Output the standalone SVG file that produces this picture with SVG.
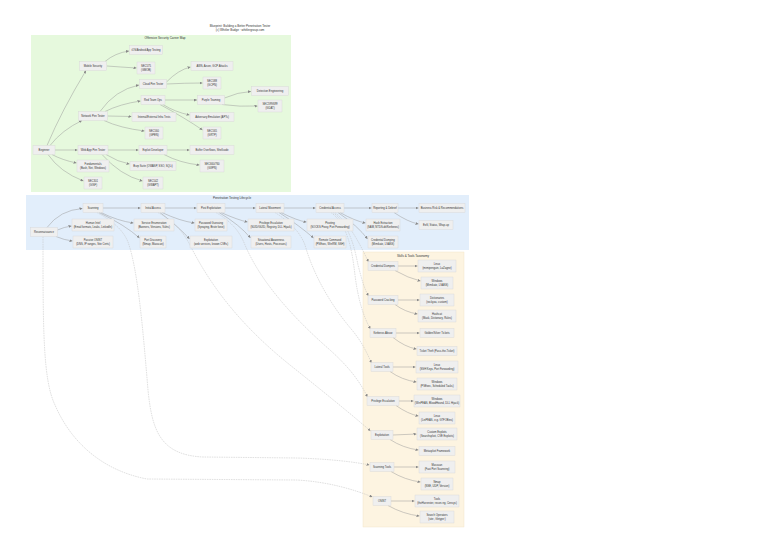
<svg xmlns="http://www.w3.org/2000/svg" width="768" height="543" viewBox="0 0 768 543">
<style>
text{font-family:"Liberation Sans",Arial,sans-serif;font-size:2.7px;fill:#333;text-anchor:middle}
.title{font-size:3px}
.cl{font-size:3px}
.n rect{fill:#efefef;stroke:#d6d6d6;stroke-width:0.4}
.e path{fill:none;stroke:#9a9a9a;stroke-width:0.5;marker-end:url(#ah)}
.x path{fill:none;stroke:#c0c0c0;stroke-width:0.5;stroke-dasharray:1.6 0.8;marker-end:url(#ah)}
</style>
<defs>
<marker id="ah" markerUnits="userSpaceOnUse" markerWidth="3" markerHeight="3" refX="3" refY="1.5" orient="auto">
<path d="M0,0 L3,1.5 L0,3 z" fill="#888"/>
</marker>
</defs>
<rect width="768" height="543" fill="#fff"/>
<g id="title">
<text class="title" x="240" y="27">Blueprint: Building a Better Penetration Tester</text>
<text class="title" x="240" y="31">(c) Whitler Budge · whitlergroup.com</text>
</g>
<g id="clusters">
<rect x="31" y="35" width="260" height="157" fill="#e6f9dd"/>
<text class="cl" x="165" y="39">Offensive Security Career Map</text>
<rect x="26" y="195" width="443" height="55" fill="#e2eefb"/>
<text class="cl" x="232" y="199">Penetration Testing Lifecycle</text>
<rect x="363" y="252" width="101" height="275" fill="#fdf4e1" stroke="#f0e2c0" stroke-width="0.4"/>
<text class="cl" x="413" y="257">Skills &amp; Tools Taxonomy</text>
</g>
<g id="connectors">
<g class="e">
<path d="M47,145.5 Q62,110 86,70.5"/>
<path d="M50,145.5 Q62,130 82,120.5"/>
<path d="M55,150 L77.5,150"/>
<path d="M52,154.5 Q62,160 76.5,163"/>
<path d="M48,154.5 Q60,172 83.5,181"/>
<path d="M105,61.5 Q115,53 129,51"/>
<path d="M107,66 Q120,67 136.5,68"/>
<path d="M100,111.5 Q115,90 139,85"/>
<path d="M105,111.5 Q120,104 140.5,101"/>
<path d="M107.5,116 L131.5,116.5"/>
<path d="M104,120.5 Q120,128 144.5,131"/>
<path d="M166.5,82 Q178,70 190.5,67"/>
<path d="M166.5,84 Q185,83 202.5,83"/>
<path d="M165,100 L197,100"/>
<path d="M163,104.5 Q175,112 189.5,115"/>
<path d="M160,104.5 Q185,118 202.5,130"/>
<path d="M224.5,98 Q238,92 251,91.5"/>
<path d="M222,104.5 Q240,107 257.5,106"/>
<path d="M108,150 L138.5,150"/>
<path d="M106,154.5 Q118,162 129.5,164"/>
<path d="M102,154.5 Q120,175 142.5,181"/>
<path d="M167,150 L189.5,150"/>
<path d="M164,154.5 Q180,163 199.5,165"/>
<path d="M47,227.5 Q60,210 82.5,208.5"/>
<path d="M57.5,230 Q64,227 71.5,226"/>
<path d="M56,236.5 Q64,240 72.5,241"/>
<path d="M103,208 L140.5,208"/>
<path d="M101,212.5 Q118,221 133.5,223"/>
<path d="M99,212.5 Q125,225 139.5,238"/>
<path d="M165,208 L196.5,208"/>
<path d="M162,212.5 Q180,221 194.5,223"/>
<path d="M160,212.5 Q180,228 189.5,239"/>
<path d="M225,208 L255.5,208"/>
<path d="M221,212.5 Q238,220 247.5,222"/>
<path d="M219,212.5 Q240,225 250.5,238"/>
<path d="M284,208 L315.5,208"/>
<path d="M281,212.5 Q298,221 306.5,222"/>
<path d="M279,212.5 Q300,226 313.5,238"/>
<path d="M344,208 L371.5,208"/>
<path d="M340,212.5 Q355,221 365.5,223"/>
<path d="M338,212.5 Q358,226 367.5,239"/>
<path d="M398,208 L418.5,208"/>
<path d="M394,212.5 Q408,222 418.5,224"/>
<path d="M398,266 L417.5,266"/>
<path d="M395,270.5 Q408,278 420.5,281"/>
<path d="M398,300 L419.5,300"/>
<path d="M395,304.5 Q405,312 417.5,314"/>
<path d="M396,333 L419.5,333"/>
<path d="M393,337.5 Q405,347 416.5,349"/>
<path d="M393,367 L415.5,367"/>
<path d="M390,371.5 Q402,380 416.5,382"/>
<path d="M399,401 L413.5,401"/>
<path d="M396,405.5 Q408,414 418.5,416"/>
<path d="M393,435 L416.5,434"/>
<path d="M390,439.5 Q403,448 418.5,450"/>
<path d="M394,467 L418.5,467"/>
<path d="M391,471.5 Q405,480 420.5,482"/>
<path d="M391,501 L414.5,501"/>
<path d="M388,505.5 Q403,514 419.5,516"/>
</g>
<g class="x">
<path d="M43,236.5 C43,330 43,380 55,405 C70,440 100,470 147,479 L297,480 C330,482 355,490 372.5,497"/>
<path d="M97,212.5 C115,222 124,232 128,242 C138,270 143,330 148,390 C152,430 160,455 203,457 L297,458 C330,459 355,462 369.5,465"/>
<path d="M158,212.5 C175,222 183,232 190,245 C210,285 240,325 290,365 C330,397 352,415 370.5,431"/>
<path d="M216,212.5 C232,222 240,232 245,245 C260,280 290,315 330,350 C350,368 360,382 367.5,397"/>
<path d="M275,212.5 C290,222 300,232 305,245 C315,280 335,310 352,330 C362,342 367,353 371.5,363"/>
<path d="M335,212.5 C350,225 358,240 368.5,262"/>
<path d="M333,212.5 C350,225 355,250 358,265 C362,280 364,288 368.5,296"/>
<path d="M331,212.5 C348,225 352,250 355,275 C358,300 364,318 370.5,329"/>
</g>
</g>
<g id="n-beginner" class="n"><rect x="33" y="145.5" width="22" height="9"/><text x="44" y="151">Beginner</text></g>
<g id="n-mobile" class="n"><rect x="79.5" y="61.5" width="27" height="9"/><text x="93" y="67">Mobile Security</text></g>
<g id="n-iosapp" class="n"><rect x="129.5" y="45.5" width="33" height="9"/><text x="146" y="51">iOS/Android App Testing</text></g>
<g id="n-sec575" class="n"><rect x="137" y="62" width="18" height="12"/><text x="146" y="67.4">SEC575</text><text x="146" y="70.8">(GMOB)</text></g>
<g id="n-netpen" class="n"><rect x="78.5" y="111.5" width="29" height="9"/><text x="93" y="117">Network Pen Tester</text></g>
<g id="n-cloudpen" class="n"><rect x="139.5" y="79.5" width="27" height="9"/><text x="153" y="85">Cloud Pen Tester</text></g>
<g id="n-aws" class="n"><rect x="191" y="61.5" width="42" height="9"/><text x="212" y="67">AWS, Azure, GCP Attacks</text></g>
<g id="n-sec588" class="n"><rect x="203" y="77" width="18" height="12"/><text x="212" y="82.4">SEC588</text><text x="212" y="85.8">(GCPN)</text></g>
<g id="n-redteam" class="n"><rect x="141" y="95.5" width="24" height="9"/><text x="153" y="101">Red Team Ops</text></g>
<g id="n-purple" class="n"><rect x="197.5" y="95.5" width="27" height="9"/><text x="211" y="101">Purple Teaming</text></g>
<g id="n-detect" class="n"><rect x="251.5" y="86.5" width="37" height="9"/><text x="270" y="92">Detection Engineering</text></g>
<g id="n-sec599" class="n"><rect x="258" y="100" width="24" height="12"/><text x="270" y="105.4">SEC599/699</text><text x="270" y="108.8">(GDAT)</text></g>
<g id="n-infra" class="n"><rect x="132" y="112.5" width="44" height="9"/><text x="154" y="118">Internal/External Infra Tests</text></g>
<g id="n-adv" class="n"><rect x="190" y="112.5" width="44" height="9"/><text x="212" y="118">Adversary Emulation (APTs)</text></g>
<g id="n-sec560" class="n"><rect x="145" y="127" width="18" height="12"/><text x="154" y="132.4">SEC560</text><text x="154" y="135.8">(GPEN)</text></g>
<g id="n-sec565" class="n"><rect x="203" y="127" width="18" height="12"/><text x="212" y="132.4">SEC565</text><text x="212" y="135.8">(GRTP)</text></g>
<g id="n-webapp" class="n"><rect x="78" y="145.5" width="30" height="9"/><text x="93" y="151">Web App Pen Tester</text></g>
<g id="n-exploitdev" class="n"><rect x="139" y="145.5" width="28" height="9"/><text x="153" y="151">Exploit Developer</text></g>
<g id="n-buffer" class="n"><rect x="190" y="145.5" width="44" height="9"/><text x="212" y="151">Buffer Overflows, Shellcode</text></g>
<g id="n-fund" class="n"><rect x="77" y="160" width="32" height="12"/><text x="93" y="165.4">Fundamentals</text><text x="93" y="168.8">(Bash, Net, Windows)</text></g>
<g id="n-burp" class="n"><rect x="130" y="161.5" width="46" height="9"/><text x="153" y="167">Burp Suite (OWASP, SSO, SQLi)</text></g>
<g id="n-sec660" class="n"><rect x="200" y="160" width="24" height="12"/><text x="212" y="165.4">SEC660/760</text><text x="212" y="168.8">(GXPN)</text></g>
<g id="n-sec301" class="n"><rect x="84" y="177" width="18" height="12"/><text x="93" y="182.4">SEC301</text><text x="93" y="185.8">(GISF)</text></g>
<g id="n-sec542" class="n"><rect x="143" y="177" width="20" height="12"/><text x="153" y="182.4">SEC542</text><text x="153" y="185.8">(GWAPT)</text></g>
<g id="n-recon" class="n"><rect x="30.5" y="227.5" width="27" height="9"/><text x="44" y="233">Reconnaissance</text></g>
<g id="n-scanning" class="n"><rect x="83" y="203.5" width="20" height="9"/><text x="93" y="209">Scanning</text></g>
<g id="n-humint" class="n"><rect x="72" y="219" width="42" height="12"/><text x="93" y="224.4">Human Intel</text><text x="93" y="227.8">(Email formats, Leaks, LinkedIn)</text></g>
<g id="n-posint" class="n"><rect x="73" y="236" width="40" height="12"/><text x="93" y="241.4">Passive OSINT</text><text x="93" y="244.8">(DNS, IP ranges, Site Certs)</text></g>
<g id="n-initial" class="n"><rect x="141" y="203.5" width="24" height="9"/><text x="153" y="209">Initial Access</text></g>
<g id="n-svcenum" class="n"><rect x="134" y="219" width="40" height="12"/><text x="154" y="224.4">Service Enumeration</text><text x="154" y="227.8">(Banners, Versions, Vulns)</text></g>
<g id="n-portdisc" class="n"><rect x="140" y="236" width="26" height="12"/><text x="153" y="241.4">Port Discovery</text><text x="153" y="244.8">(Nmap, Masscan)</text></g>
<g id="n-postex" class="n"><rect x="197" y="203.5" width="28" height="9"/><text x="211" y="209">Post Exploitation</text></g>
<g id="n-pwguess" class="n"><rect x="195" y="219" width="32" height="12"/><text x="211" y="224.4">Password Guessing</text><text x="211" y="227.8">(Spraying, Brute force)</text></g>
<g id="n-exploitation" class="n"><rect x="190" y="236" width="42" height="12"/><text x="211" y="241.4">Exploitation</text><text x="211" y="244.8">(web services, known CVEs)</text></g>
<g id="n-lateral" class="n"><rect x="256" y="203.5" width="28" height="9"/><text x="270" y="209">Lateral Movement</text></g>
<g id="n-privesc" class="n"><rect x="248" y="219" width="46" height="12"/><text x="271" y="224.4">Privilege Escalation</text><text x="271" y="227.8">(SUID/GUID, Registry, DLL Hijack)</text></g>
<g id="n-situational" class="n"><rect x="251" y="236" width="40" height="12"/><text x="271" y="241.4">Situational Awareness</text><text x="271" y="244.8">(Users, Hosts, Processes)</text></g>
<g id="n-credaccess" class="n"><rect x="316" y="203.5" width="28" height="9"/><text x="330" y="209">Credential Access</text></g>
<g id="n-pivoting" class="n"><rect x="307" y="219" width="46" height="12"/><text x="330" y="224.4">Pivoting</text><text x="330" y="227.8">(SOCKS Proxy, Port Forwarding)</text></g>
<g id="n-remotecmd" class="n"><rect x="314" y="236" width="32" height="12"/><text x="330" y="241.4">Remote Command</text><text x="330" y="244.8">(PSExec, WinRM, SSH)</text></g>
<g id="n-reporting" class="n"><rect x="372" y="203.5" width="26" height="9"/><text x="385" y="209">Reporting &amp; Debrief</text></g>
<g id="n-business" class="n"><rect x="419" y="203.5" width="46" height="9"/><text x="442" y="209">Business Risk &amp; Recommendations</text></g>
<g id="n-hashext" class="n"><rect x="366" y="219" width="34" height="12"/><text x="383" y="224.4">Hash Extraction</text><text x="383" y="227.8">(SAM, NTDS.dit/Kerberos)</text></g>
<g id="n-exfil" class="n"><rect x="419" y="220.5" width="34" height="9"/><text x="436" y="226">Exfil, Status, Wrap-up</text></g>
<g id="n-creddump" class="n"><rect x="368" y="236" width="30" height="12"/><text x="383" y="241.4">Credential Dumping</text><text x="383" y="244.8">(Mimikatz, LSASS)</text></g>
<g id="n-credumpers" class="n"><rect x="368" y="261.5" width="30" height="9"/><text x="383" y="267">Credential Dumpers</text></g>
<g id="n-linux1" class="n"><rect x="418" y="260" width="38" height="12"/><text x="437" y="265.4">Linux</text><text x="437" y="268.8">(mimipenguin, LaZagne)</text></g>
<g id="n-win1" class="n"><rect x="421" y="277" width="32" height="12"/><text x="437" y="282.4">Windows</text><text x="437" y="285.8">(Mimikatz, LSASS)</text></g>
<g id="n-pwcrack" class="n"><rect x="368" y="295.5" width="30" height="9"/><text x="383" y="301">Password Cracking</text></g>
<g id="n-dict" class="n"><rect x="420" y="294" width="34" height="12"/><text x="437" y="299.4">Dictionaries</text><text x="437" y="302.8">(rockyou, custom)</text></g>
<g id="n-hashcat" class="n"><rect x="418" y="310" width="38" height="12"/><text x="437" y="315.4">Hashcat</text><text x="437" y="318.8">(Mask, Dictionary, Rules)</text></g>
<g id="n-kerb" class="n"><rect x="370" y="328.5" width="26" height="9"/><text x="383" y="334">Kerberos Abuse</text></g>
<g id="n-golden" class="n"><rect x="420" y="328.5" width="34" height="9"/><text x="437" y="334">Golden/Silver Tickets</text></g>
<g id="n-ticket" class="n"><rect x="417" y="346.5" width="40" height="9"/><text x="437" y="352">Ticket Theft (Pass-the-Ticket)</text></g>
<g id="n-lattools" class="n"><rect x="371" y="362.5" width="22" height="9"/><text x="382" y="368">Lateral Tools</text></g>
<g id="n-linux2" class="n"><rect x="416" y="361" width="42" height="12"/><text x="437" y="366.4">Linux</text><text x="437" y="369.8">(SSH Keys, Port Forwarding)</text></g>
<g id="n-win2" class="n"><rect x="417" y="378" width="40" height="12"/><text x="437" y="383.4">Windows</text><text x="437" y="386.8">(PSExec, Scheduled Tasks)</text></g>
<g id="n-privesc2" class="n"><rect x="367" y="396.5" width="32" height="9"/><text x="383" y="402">Privilege Escalation</text></g>
<g id="n-win3" class="n"><rect x="414" y="395" width="46" height="12"/><text x="437" y="400.4">Windows</text><text x="437" y="403.8">(WinPEAS, BloodHound, DLL Hijack)</text></g>
<g id="n-linux3" class="n"><rect x="419" y="412" width="36" height="12"/><text x="437" y="417.4">Linux</text><text x="437" y="420.8">(LinPEAS, e.g. GTFOBins)</text></g>
<g id="n-exploit2" class="n"><rect x="371" y="430.5" width="22" height="9"/><text x="382" y="436">Exploitation</text></g>
<g id="n-custom" class="n"><rect x="417" y="428" width="40" height="12"/><text x="437" y="433.4">Custom Exploits</text><text x="437" y="436.8">(Searchsploit, CVE Exploits)</text></g>
<g id="n-msf" class="n"><rect x="419" y="446.5" width="36" height="9"/><text x="437" y="452">Metasploit Framework</text></g>
<g id="n-scantools" class="n"><rect x="370" y="462.5" width="24" height="9"/><text x="382" y="468">Scanning Tools</text></g>
<g id="n-masscan" class="n"><rect x="419" y="461" width="36" height="12"/><text x="437" y="466.4">Masscan</text><text x="437" y="469.8">(Fast Port Scanning)</text></g>
<g id="n-nmap" class="n"><rect x="421" y="478" width="32" height="12"/><text x="437" y="483.4">Nmap</text><text x="437" y="486.8">(NSE, UDP, Version)</text></g>
<g id="n-osint" class="n"><rect x="373" y="496.5" width="18" height="9"/><text x="382" y="502">OSINT</text></g>
<g id="n-osinttools" class="n"><rect x="415" y="495" width="44" height="12"/><text x="437" y="500.4">Tools</text><text x="437" y="503.8">(theHarvester, recon-ng, Censys)</text></g>
<g id="n-searchops" class="n"><rect x="420" y="511" width="34" height="12"/><text x="437" y="516.4">Search Operators</text><text x="437" y="519.8">(site:, filetype:)</text></g>
</svg>
